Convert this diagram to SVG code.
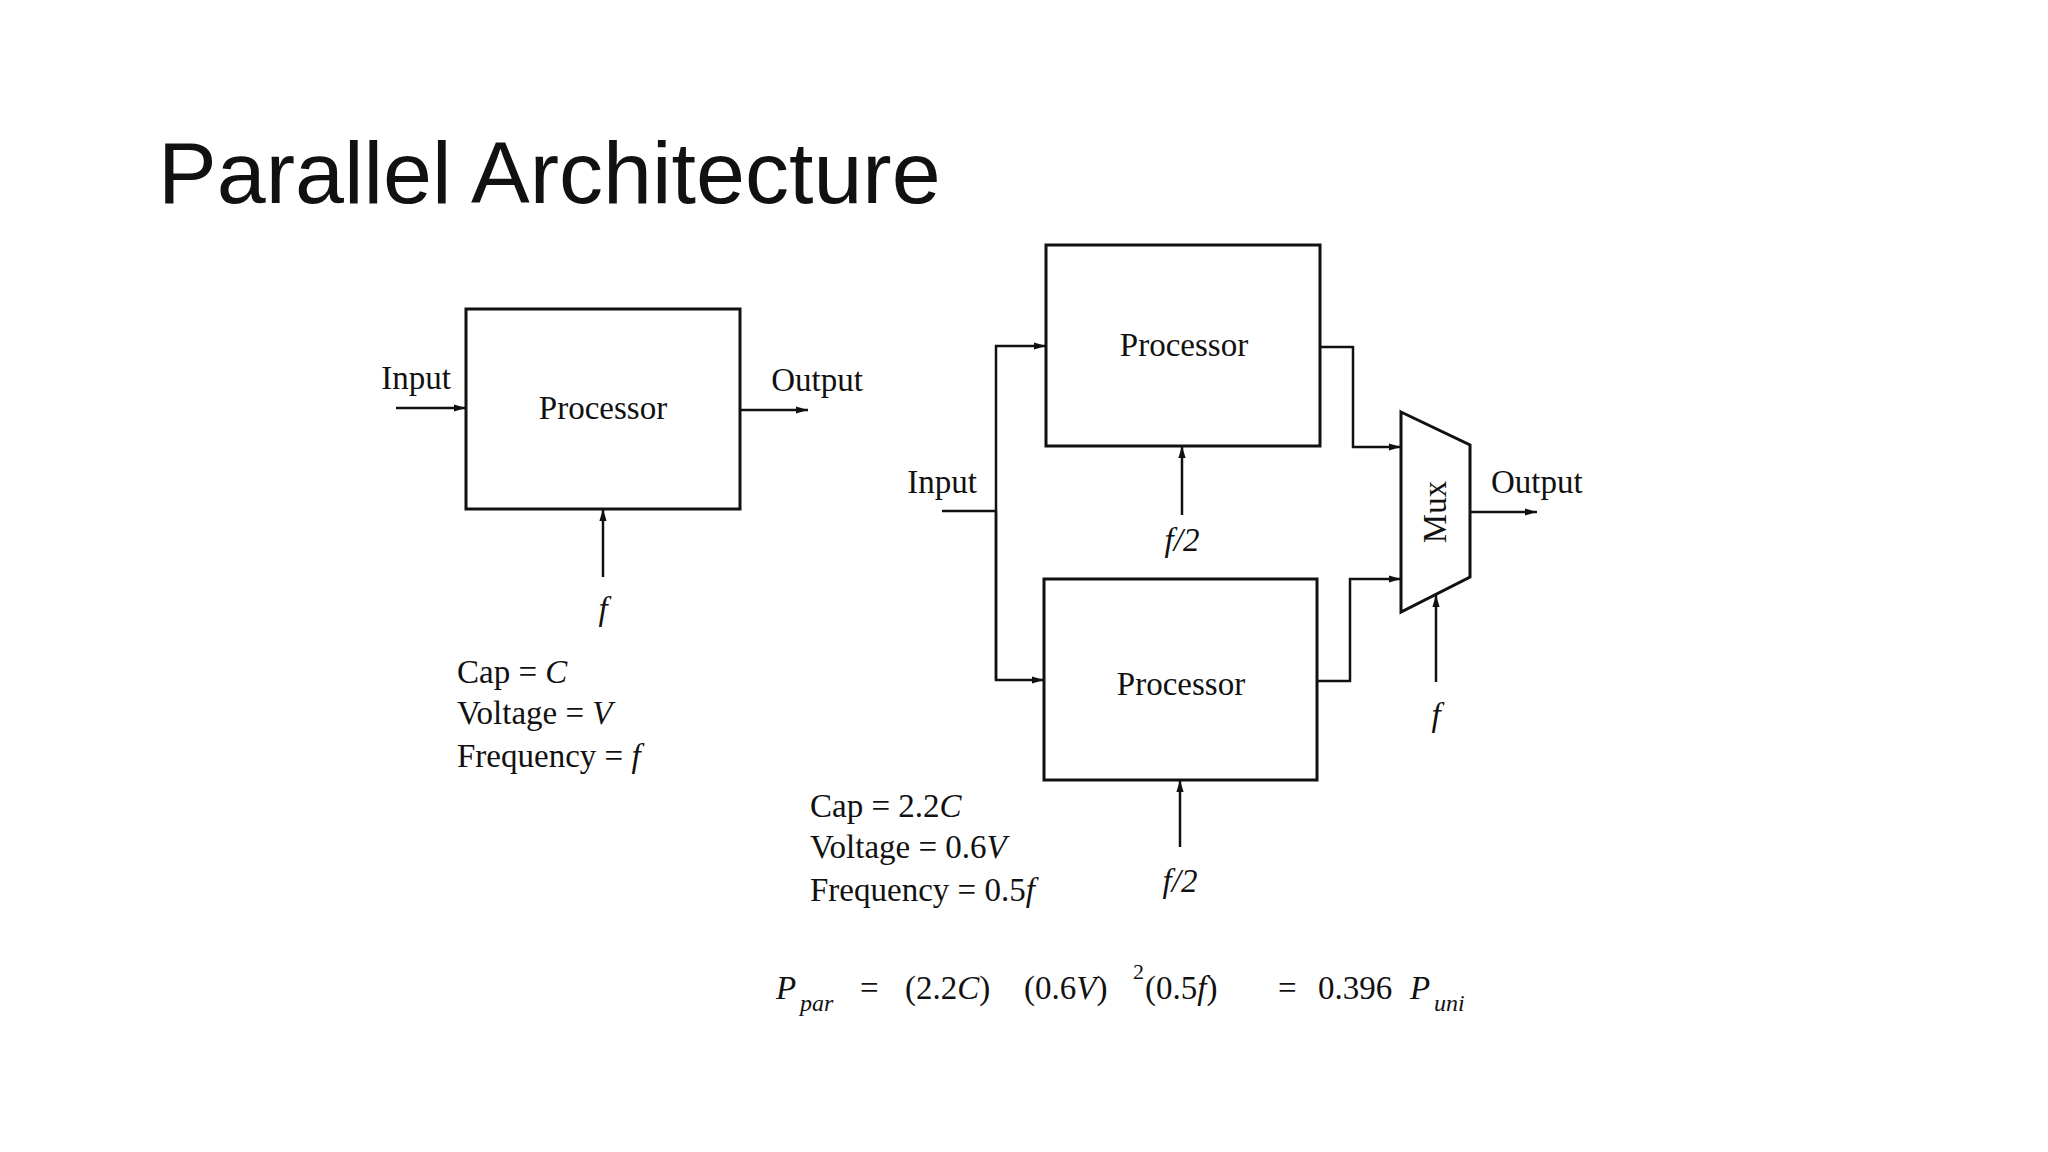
<svg xmlns="http://www.w3.org/2000/svg" width="2048" height="1152" viewBox="0 0 2048 1152">
<defs>
<style>
.t{font-family:"Liberation Serif",serif;font-size:33px;fill:#111}
.c{text-anchor:middle}
.i{font-style:italic}
.b{fill:none;stroke:#111;stroke-width:3}
.l{fill:none;stroke:#111;stroke-width:2.5}
</style>
<marker id="a" viewBox="0 0 10 10" refX="10" refY="5" markerWidth="12" markerHeight="12" markerUnits="userSpaceOnUse" orient="auto"><path d="M0,2 L10,5 L0,8 z" fill="#111"/></marker>
</defs>
<rect width="2048" height="1152" fill="#fff"/>
<text x="158" y="203" font-family="Liberation Sans,sans-serif" font-size="88" fill="#111">Parallel Architecture</text>
<g id="proc1"><rect class="b" x="466" y="309" width="274" height="200"/><text class="t c" x="603" y="419">Processor</text></g>
<g id="proc2"><rect class="b" x="1046" y="245" width="274" height="201"/><text class="t c" x="1184" y="356">Processor</text></g>
<g id="proc3"><rect class="b" x="1044" y="579" width="273" height="201"/><text class="t c" x="1181" y="695">Processor</text></g>
<g id="mux"><path class="b" d="M1401,412 L1470,445 L1470,577 L1401,612 Z"/><text class="t c" transform="translate(1446,512) rotate(-90)">Mux</text></g>
<g id="labels">
<text class="t c" x="416" y="389">Input</text>
<text class="t c" x="817" y="391">Output</text>
<text class="t c i" x="603" y="620">f</text>
<text class="t" x="457" y="683">Cap = <tspan class="i">C</tspan></text>
<text class="t" x="457" y="724">Voltage = <tspan class="i">V</tspan></text>
<text class="t" x="457" y="767">Frequency = <tspan class="i">f</tspan></text>
<text class="t c" x="942" y="493">Input</text>
<text class="t i c" x="1182" y="551">f/2</text>
<text class="t i c" x="1180" y="892">f/2</text>
<text class="t" x="1491" y="493">Output</text>
<text class="t i c" x="1436" y="726">f</text>
<text class="t" x="810" y="817">Cap = 2.2<tspan class="i">C</tspan></text>
<text class="t" x="810" y="858">Voltage = 0.6<tspan class="i">V</tspan></text>
<text class="t" x="810" y="901">Frequency = 0.5<tspan class="i">f</tspan></text>
<text class="t" y="999"><tspan class="i" x="776">P</tspan><tspan class="i" x="800" y="1011" font-size="24">par</tspan><tspan x="860" y="999">=</tspan><tspan x="905">(2.2<tspan class="i">C</tspan>)</tspan><tspan x="1024">(0.6<tspan class="i">V</tspan>)</tspan><tspan x="1133" y="979" font-size="22">2</tspan><tspan x="1145" y="999">(0.5<tspan class="i">f</tspan>)</tspan><tspan x="1278">=</tspan><tspan x="1318">0.396</tspan><tspan class="i" x="1410">P</tspan><tspan class="i" x="1434" y="1011" font-size="24">uni</tspan></text>
</g>
<g id="connectors">
<line class="l" x1="396" y1="408" x2="466" y2="408" marker-end="url(#a)"/>
<line class="l" x1="740" y1="410" x2="808" y2="410" marker-end="url(#a)"/>
<line class="l" x1="603" y1="577" x2="603" y2="509" marker-end="url(#a)"/>
<path class="l" d="M942,511 H996"/>
<path class="l" d="M996,680 V346 H1046" marker-end="url(#a)"/>
<path class="l" d="M996,511 V680 H1044" marker-end="url(#a)"/>
<line class="l" x1="1182" y1="515" x2="1182" y2="446" marker-end="url(#a)"/>
<line class="l" x1="1180" y1="847" x2="1180" y2="780" marker-end="url(#a)"/>
<path class="l" d="M1320,347 H1353 V447 H1401" marker-end="url(#a)"/>
<path class="l" d="M1317,681 H1350 V579 H1401" marker-end="url(#a)"/>
<line class="l" x1="1470" y1="512" x2="1537" y2="512" marker-end="url(#a)"/>
<line class="l" x1="1436" y1="682" x2="1436" y2="595" marker-end="url(#a)"/>
</g>
</svg>
